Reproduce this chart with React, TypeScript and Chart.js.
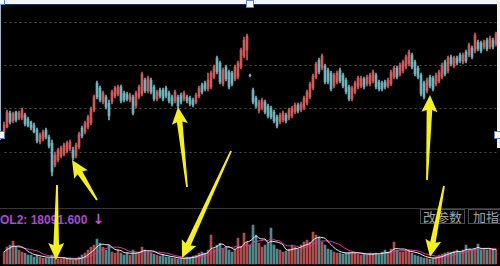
import React, { useEffect, useRef } from "react";
import { Chart, registerables } from "chart.js";

Chart.register(...registerables);

// ---- price data (one candle per session) ----
const OPEN = [
  16.8, 17.3, 18.7, 17.9, 18.8, 18.2, 18.2, 18.5, 18.1, 17.8,
  17.5, 17.0, 15.8, 16.1, 17.0, 16.3, 15.7, 13.5, 14.0, 14.4,
  14.6, 14.9, 15.1, 15.0, 14.4, 15.3, 17.2, 16.8, 17.3, 17.7,
  19.0, 21.7, 21.2, 19.8, 20.3, 19.7, 19.8, 20.4, 20.6, 21.3,
  20.7, 20.6, 20.0, 20.3, 19.4, 20.3, 20.6, 22.0, 20.9, 22.0,
  21.3, 20.1, 21.0, 21.0, 21.2, 20.7, 20.3, 19.9, 20.3, 20.5,
  20.1, 20.3, 20.2, 20.0, 19.8, 20.4, 21.5, 21.7, 21.1, 21.3,
  22.3, 24.2, 23.7, 21.6, 23.3, 22.8, 22.7, 22.1, 22.3, 23.3,
  24.4, 25.0, 22.5, 21.0, 20.2, 18.9, 19.2, 19.8, 19.4, 19.2,
  18.8, 18.3, 17.8, 18.0, 18.5, 18.2, 18.4, 18.8, 19.5, 19.0,
  19.2, 19.7, 20.3, 21.2, 22.3, 24.0, 23.2, 23.4, 23.0, 22.7,
  21.4, 21.8, 23.0, 22.5, 22.0, 21.3, 20.1, 20.8, 21.3, 21.4,
  22.1, 21.6, 21.6, 21.9, 22.5, 21.8, 21.7, 21.8, 21.4, 21.6,
  22.3, 23.2, 22.6, 22.9, 23.3, 23.6, 24.5, 23.8, 23.2, 22.5,
  21.7, 20.9, 22.3, 22.2, 21.6, 21.9, 22.3, 23.8, 22.9, 24.3,
  23.4, 24.2, 24.5, 23.8, 24.8, 24.5, 25.2, 24.9, 25.8, 25.7,
  25.3, 26.0, 25.3, 26.0, 25.6,
];
const CLOSE = [
  17.5, 18.8, 17.8, 18.6, 18.0, 18.7, 19.0, 17.6, 17.4, 17.2,
  16.8, 15.9, 16.5, 16.8, 16.3, 15.4, 12.8, 14.5, 15.0, 15.2,
  15.5, 15.7, 15.8, 14.2, 15.5, 16.6, 16.4, 17.7, 18.3, 19.1,
  20.3, 20.3, 20.0, 20.7, 19.3, 18.4, 20.8, 21.2, 21.3, 19.9,
  20.0, 20.1, 20.5, 18.7, 20.7, 21.3, 22.6, 20.9, 22.2, 20.8,
  20.1, 20.8, 20.4, 20.1, 20.4, 19.9, 19.6, 20.8, 19.4, 19.8,
  20.7, 19.9, 19.6, 19.5, 20.5, 21.2, 20.8, 21.1, 22.0, 22.7,
  23.3, 22.8, 21.8, 23.0, 22.1, 21.3, 21.6, 23.3, 23.7, 25.0,
  26.0, 26.4, 22.4, 19.8, 19.4, 19.8, 20.0, 18.8, 18.4, 18.3,
  17.9, 17.4, 18.5, 18.7, 17.9, 19.0, 19.2, 19.5, 18.9, 19.6,
  20.2, 20.8, 21.6, 22.4, 23.6, 22.8, 24.4, 21.8, 21.8, 21.1,
  22.5, 22.7, 21.9, 21.4, 20.8, 20.1, 21.2, 21.7, 22.2, 22.2,
  21.3, 22.3, 22.5, 22.8, 21.3, 21.1, 21.1, 21.3, 22.0, 22.8,
  23.2, 22.3, 23.5, 23.8, 24.3, 24.8, 23.3, 22.6, 22.3, 20.6,
  20.3, 22.0, 21.4, 21.1, 22.5, 22.8, 23.5, 22.6, 24.2, 23.6,
  24.2, 23.7, 23.9, 24.5, 23.9, 25.5, 24.3, 26.5, 25.1, 24.9,
  25.8, 25.1, 26.2, 25.3, 26.6,
];
const HIGH = [
  17.8, 19.0, 18.9, 18.8, 18.9, 18.9, 19.2, 18.7, 18.3, 17.9,
  17.7, 17.2, 16.7, 17.0, 17.2, 16.5, 16.0, 14.8, 15.2, 15.4,
  15.7, 15.9, 16.0, 15.3, 15.7, 16.8, 17.4, 17.9, 18.5, 19.3,
  20.5, 21.9, 21.4, 20.9, 20.5, 20.0, 21.0, 21.4, 21.5, 21.5,
  20.9, 20.8, 20.7, 20.5, 20.9, 21.5, 22.8, 22.2, 22.4, 22.2,
  21.5, 21.0, 21.2, 21.2, 21.4, 20.9, 20.5, 21.0, 20.5, 20.7,
  20.9, 20.5, 20.4, 20.2, 20.7, 21.4, 21.7, 21.9, 22.7, 22.9,
  23.5, 24.4, 23.9, 23.2, 23.5, 23.0, 22.9, 23.5, 23.9, 25.2,
  26.3, 26.6, 22.6, 21.2, 20.4, 20.0, 20.2, 20.0, 19.6, 19.4,
  19.0, 18.5, 18.7, 18.9, 18.7, 19.2, 19.4, 19.7, 19.7, 19.8,
  20.4, 21.0, 21.8, 22.6, 23.8, 24.2, 24.6, 23.6, 23.2, 22.9,
  22.7, 22.9, 23.2, 22.7, 22.2, 21.5, 21.4, 21.9, 22.4, 22.4,
  22.3, 22.5, 22.7, 23.0, 22.7, 22.0, 21.9, 22.0, 22.2, 23.0,
  23.4, 23.4, 23.7, 24.0, 24.5, 25.0, 24.7, 24.0, 23.4, 22.7,
  21.9, 22.2, 22.5, 22.4, 22.7, 23.0, 23.7, 24.0, 24.4, 24.5,
  24.4, 24.4, 24.7, 24.7, 25.0, 25.7, 25.4, 26.7, 26.0, 25.9,
  26.0, 26.2, 26.4, 26.2, 26.8,
];
const LOW = [
  16.6, 17.2, 17.6, 17.7, 17.8, 18.0, 18.0, 17.4, 17.3, 17.0,
  16.7, 15.7, 15.6, 15.9, 16.1, 15.2, 12.4, 13.3, 13.8, 14.2,
  14.4, 14.7, 14.9, 14.0, 14.2, 15.1, 16.2, 16.6, 17.1, 17.5,
  18.8, 20.1, 19.8, 19.6, 19.1, 18.0, 19.6, 20.2, 20.4, 19.7,
  19.8, 19.9, 19.8, 18.5, 19.2, 20.1, 20.4, 20.7, 20.7, 20.6,
  19.9, 19.9, 20.2, 19.9, 20.2, 19.7, 19.4, 19.7, 19.2, 19.6,
  19.9, 19.7, 19.4, 19.3, 19.6, 20.2, 20.6, 20.9, 20.9, 21.1,
  22.1, 22.6, 21.6, 21.4, 21.9, 21.1, 21.4, 21.9, 22.1, 23.1,
  24.2, 24.0, 22.3, 19.6, 19.2, 18.7, 19.0, 18.6, 18.2, 18.1,
  17.7, 17.2, 17.6, 17.8, 17.7, 18.0, 18.2, 18.6, 18.7, 18.8,
  19.0, 19.5, 20.1, 21.0, 22.1, 22.6, 23.0, 21.6, 21.6, 20.9,
  21.2, 21.6, 21.7, 21.2, 20.6, 19.9, 19.9, 20.6, 21.1, 21.2,
  21.1, 21.4, 21.4, 21.7, 21.1, 20.9, 20.9, 21.1, 21.2, 21.4,
  22.1, 22.1, 22.4, 22.7, 23.1, 23.4, 23.1, 22.4, 22.1, 20.4,
  20.1, 20.7, 21.2, 20.9, 21.4, 21.7, 22.1, 22.4, 22.7, 23.4,
  23.2, 23.5, 23.7, 23.6, 23.7, 24.3, 24.1, 24.7, 24.9, 24.7,
  25.1, 24.9, 25.1, 25.1, 25.4,
];
const VOLUME = [
  12000, 17000, 19000, 23000, 17000, 14000, 12000, 11000, 9000, 9000,
  7000, 9000, 7000, 6000, 6000, 6000, 9000, 6000, 5000, 5000,
  6000, 5000, 5000, 4000, 5000, 7000, 9000, 11000, 14000, 17000,
  19000, 25000, 21000, 17000, 14000, 19000, 12000, 11000, 14000, 11000,
  9000, 11000, 9000, 14000, 11000, 12000, 17000, 14000, 12000, 11000,
  10000, 9000, 8000, 9000, 7000, 7000, 6000, 6000, 5000, 6000,
  5000, 7000, 7000, 8000, 9000, 11000, 12000, 11000, 14000, 29000,
  15000, 19000, 21000, 15000, 17000, 14000, 12000, 15000, 26000, 17000,
  31000, 22000, 19000, 39000, 29000, 21000, 17000, 19000, 21000, 36000,
  19000, 15000, 14000, 12000, 13000, 15000, 19000, 17000, 15000, 19000,
  22000, 24000, 22000, 32000, 29000, 27000, 22000, 19000, 15000, 14000,
  12000, 11000, 11000, 10000, 11000, 12000, 12000, 11000, 10000, 9000,
  10000, 9000, 11000, 10000, 11000, 9000, 12000, 14000, 12000, 15000,
  22000, 14000, 12000, 12000, 13000, 14000, 11000, 9000, 8000, 7000,
  6000, 6000, 5000, 6000, 7000, 9000, 10000, 11000, 12000, 12000,
  13000, 14000, 12000, 14000, 19000, 15000, 14000, 15000, 20000, 14000,
  15000, 14000, 15000, 14000, 15000,
];
const SESSIONS = OPEN.map((_, i) => String(i + 1));

// ---- reference levels & annotations ----
const GRID_PRICES = [27.83, 23.5, 19.17, 14.83];
const PANE_SPLIT_PRICE = 9.2;
// arrows: [session index, price] for tip and tail
const ARROW_TIPS = [
  [22.67, 14.0], [58, 19.3], [59.33, 4.2], [17.33, 4.0], [142, 20.5], [142, 4.3],
];
const ARROW_TAILS = [
  [31, 10.0], [61, 11.3], [75.67, 14.9], [17.67, 11.5], [141, 12.0], [146.67, 11.4],
];
const VOL_LABEL = "VOL2: 18091.600";
const VOL_ARROW = "↓";
const BUTTONS = ["改参数", "加指标"];

const UP = "#cc5b5b";
const DOWN = "#72b2ba";
const UP_VOL = "rgba(204,91,91,0.85)";
const DOWN_VOL = "rgba(100,170,178,0.8)";

function movingAverage(arr: number[], n: number) {
  return arr.map((_, i) => {
    const s = Math.max(0, i - n + 1);
    let sum = 0;
    for (let k = s; k <= i; k++) sum += arr[k];
    return sum / (i - s + 1);
  });
}

function drawArrow(ctx: CanvasRenderingContext2D, tx: number, ty: number, sx: number, sy: number) {
  const dx = sx - tx, dy = sy - ty;
  const len = Math.hypot(dx, dy);
  const ux = dx / len, uy = dy / len;
  const px = -uy, py = ux;
  const headLen = 17, headHalf = 8, near = 2.8, far = 0.9;
  const bx = tx + ux * headLen, by = ty + uy * headLen;
  const nx = tx + ux * (headLen - 2), ny = ty + uy * (headLen - 2);
  ctx.beginPath();
  ctx.moveTo(tx, ty);
  ctx.lineTo(bx + px * headHalf, by + py * headHalf);
  ctx.lineTo(nx + px * near, ny + py * near);
  ctx.lineTo(sx + px * far, sy + py * far);
  ctx.lineTo(sx - px * far, sy - py * far);
  ctx.lineTo(nx - px * near, ny - py * near);
  ctx.lineTo(bx - px * headHalf, by - py * headHalf);
  ctx.closePath();
  ctx.fillStyle = "#f4ef22";
  ctx.fill();
}

const overlayPlugin = {
  id: "overlay",
  beforeDatasetsDraw(chart: any) {
    const { ctx, chartArea, scales } = chart;
    ctx.save();
    ctx.strokeStyle = "#525252";
    ctx.lineWidth = 1;
    ctx.setLineDash([2, 3]);
    GRID_PRICES.forEach((p) => {
      const y = Math.round(scales.y.getPixelForValue(p)) + 0.5;
      ctx.beginPath();
      ctx.moveTo(chartArea.left + 2, y);
      ctx.lineTo(chartArea.right, y);
      ctx.stroke();
    });
    ctx.setLineDash([]);
    ctx.strokeStyle = "#363636";
    const ys = Math.round(scales.y.getPixelForValue(PANE_SPLIT_PRICE)) + 0.5;
    ctx.beginPath();
    ctx.moveTo(0, ys);
    ctx.lineTo(chart.width, ys);
    ctx.stroke();
    ctx.restore();
  },
  afterDatasetsDraw(chart: any) {
    const { ctx, scales } = chart;
    ctx.save();
    ARROW_TIPS.forEach((tip, k) => {
      const tail = ARROW_TAILS[k];
      drawArrow(
        ctx,
        scales.x.getPixelForValue(tip[0]),
        scales.y.getPixelForValue(tip[1]),
        scales.x.getPixelForValue(tail[0]),
        scales.y.getPixelForValue(tail[1])
      );
    });
    ctx.restore();
  },
};

export default function App() {
  const ref = useRef<HTMLCanvasElement>(null);

  useEffect(() => {
    const canvas = ref.current!;
    const up = OPEN.map((o, i) => CLOSE[i] >= o);
    const colors = up.map((u) => (u ? UP : DOWN));
    const volColors = up.map((u) => (u ? UP_VOL : DOWN_VOL));
    const chart = new Chart(canvas, {
      type: "bar",
      data: {
        labels: SESSIONS,
        datasets: [
          {
            type: "line",
            yAxisID: "yv",
            data: movingAverage(VOLUME, 5),
            borderColor: "#e8e8e8",
            borderWidth: 1,
            pointRadius: 0,
            tension: 0.3,
          } as any,
          {
            type: "line",
            yAxisID: "yv",
            data: movingAverage(VOLUME, 10),
            borderColor: "#d43c9e",
            borderWidth: 1,
            pointRadius: 0,
            tension: 0.3,
          } as any,
          {
            yAxisID: "y",
            data: LOW.map((l, i) => [l, HIGH[i]]),
            backgroundColor: colors,
            barThickness: 1,
            grouped: false,
          } as any,
          {
            yAxisID: "y",
            data: OPEN.map((o, i) => [o, CLOSE[i]]),
            backgroundColor: colors,
            barThickness: 2,
            grouped: false,
            minBarLength: 1,
          } as any,
          {
            yAxisID: "yv",
            data: VOLUME,
            backgroundColor: volColors,
            barThickness: 2,
            grouped: false,
          } as any,
        ],
      },
      options: {
        animation: false,
        responsive: false,
        devicePixelRatio: 1,
        layout: { padding: { left: 2.5, right: 2.5, top: 0, bottom: 0 } },
        plugins: { legend: { display: false }, tooltip: { enabled: false } },
        scales: {
          x: { type: "category", display: false, offset: true },
          y: { display: false, min: 3.4, max: 30 },
          yv: { display: false, min: -2000, max: 264000 },
        },
      },
      plugins: [overlayPlugin],
    });
    return () => chart.destroy();
  }, []);

  const btn: React.CSSProperties = {
    position: "absolute",
    top: 209,
    height: 15,
    boxSizing: "border-box",
    border: "1px solid #4e4e4e",
    color: "#a4a4a4",
    font: '13px "Noto Sans CJK SC", sans-serif',
    lineHeight: "13px",
    whiteSpace: "nowrap",
    overflow: "hidden",
  };

  return (
    <div
      style={{
        position: "fixed",
        left: 0,
        top: 0,
        width: 500,
        height: 266,
        background: "#000",
        overflow: "hidden",
      }}
    >
      <div
        style={{
          position: "absolute",
          left: -8,
          top: 211,
          font: 'bold 12px "Liberation Sans", Arial, sans-serif',
          lineHeight: "13px",
          color: "#a84ccf",
          whiteSpace: "nowrap",
        }}
      >
        {VOL_LABEL}
        <span
          style={{
            marginLeft: 5,
            font: 'bold 14px "DejaVu Sans", sans-serif',
            color: "#b35ad6",
          }}
        >
          {VOL_ARROW}
        </span>
      </div>
      <div style={{ ...btn, left: 420, width: 45, textAlign: "center" }}>{BUTTONS[0]}</div>
      <div style={{ ...btn, left: 468, width: 50, paddingLeft: 4 }}>{BUTTONS[1]}</div>
      <canvas
        ref={ref}
        width={500}
        height={266}
        style={{ position: "absolute", left: 0, top: 0, width: 500, height: 266 }}
      />
      {/* screenshot frame */}
      <div style={{ position: "absolute", left: 0, top: 0, width: 500, height: 4, background: "#f4f4f4" }} />
      <div style={{ position: "absolute", left: 0, top: 4, width: 500, height: 1, background: "#1d3352" }} />
      <div style={{ position: "absolute", left: 0, top: 0, width: 1, height: 140, background: "#9fb4cc" }} />
      <div style={{ position: "absolute", left: 497, top: 0, width: 3, height: 148, background: "#f0f0f0" }} />
      <div style={{ position: "absolute", left: -3, top: -3, width: 6, height: 6, background: "#fff", border: "1px solid #5b86c0" }} />
      <div style={{ position: "absolute", left: 246, top: 0, width: 6, height: 6, background: "#fff", border: "1px solid #5b86c0" }} />
      <div style={{ position: "absolute", left: -3, top: 131, width: 6, height: 6, background: "#fff", border: "1px solid #5b86c0" }} />
      <div style={{ position: "absolute", left: 494, top: 131, width: 6, height: 6, background: "#fff", border: "1px solid #5b86c0" }} />
    </div>
  );
}
